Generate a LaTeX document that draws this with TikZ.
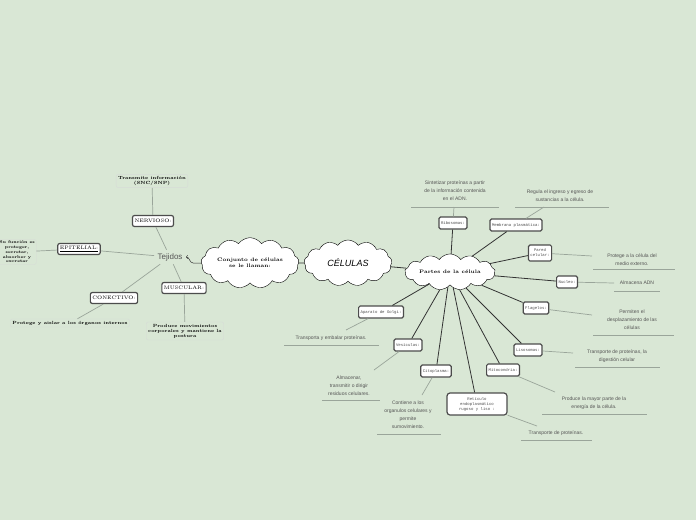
\documentclass[tikz,border=0pt]{standalone}
\usepackage{fontspec}
\newfontfamily\sansf{Liberation Sans}
\newfontfamily\monof{Liberation Mono}
\usetikzlibrary{shapes.symbols}
\definecolor{bg}{HTML}{D9E7D5}
\definecolor{txt}{HTML}{555555}
\definecolor{ln}{HTML}{9AA59A}
\begin{document}
\begin{tikzpicture}[x=1pt,y=-1pt,
  cloudn/.style={cloud,draw=black,fill=white,cloud puffs=13,cloud puff arc=110,aspect=2.4,inner sep=1pt,align=center},
  lbox/.style={draw=black!70,line width=1.2pt,rounded corners=2pt,fill=white,font=\fontsize{5}{6}\selectfont,inner sep=2pt,minimum height=11pt},
  rbox/.style={draw=black!70,line width=1.2pt,rounded corners=1.5pt,fill=white,font=\monof\fontsize{4}{5}\selectfont,text=black!70,inner sep=2pt,minimum height=12pt,align=center},
  ltxt/.style={font=\fontsize{4.5}{5}\selectfont\bfseries,align=center,draw=ln!40,rounded corners=2pt,inner sep=2pt},
  rtxt/.style={font=\sansf\fontsize{5}{8}\selectfont,text=txt,align=center},
  ul/.style={draw=ln,line width=0.6pt},
  con/.style={draw=black!80,line width=0.8pt},
  lcon/.style={draw=ln,line width=0.7pt}]
\fill[bg] (0,0) rectangle (696,520);
\useasboundingbox (0,0) rectangle (696,520);
% center
\node[cloudn,minimum width=88pt,minimum height=46pt,font=\sansf\small\itshape] (cel) at (348,263) {CÉLULAS};
\node[cloudn,minimum width=92pt,minimum height=38pt,font=\fontsize{5}{6}\selectfont\bfseries] (conj) at (250,263) {Conjunto de células\\se le llaman:};
\node[cloudn,minimum width=88pt,minimum height=28pt,font=\fontsize{5}{6}\selectfont\bfseries,aspect=3.5] (par) at (450,272) {Partes de la célula};
\node[font=\sansf\footnotesize,text=txt] (tej) at (170,257) {Tejidos};
\draw[con] (cel) -- (conj);
\draw[con] (cel) -- (par);
\draw[con,->,line width=0.5pt] (conj.west) -- ++(-8,0) to[out=180,in=0] (tej.east);
% left
\node[ltxt] (tnt) at (152,181) {Transmite información\\(SNC/SNP)};
\node[lbox] (ner) at (153,221) {NERVIOSO:};
\node[lbox] (epi) at (79,249) {\underline{EPITELIAL:}};
\node[ltxt,font=\fontsize{4}{4.8}\selectfont\bfseries,inner sep=1.5pt] (ept) at (17,252) {Su función es\\proteger,\\secretar,\\absorber y\\excretar};
\node[lbox] (cnx) at (114,298) {CONECTIVO:};
\node[ltxt] (cnt) at (70,323) {Protege y aislar a los órganos  internos};
\node[lbox] (mus) at (184,288) {MUSCULAR:};
\node[ltxt] (mut) at (185,331) {Produce movimientos\\corporales y  mantiene la\\postura};
\foreach \a in {ner,epi,cnx,mus} \draw[lcon] (tej) -- (\a);
\draw[lcon] (ner) -- (tnt); \draw[lcon] (epi) -- (ept); \draw[lcon] (cnx) -- (cnt); \draw[lcon] (mus) -- (mut);
% right boxes
\node[rbox] (rib) at (453,223) {Ribosomas:};
\node[rbox] (mem) at (516,225) {Membrana plasmática:};
\node[rbox,minimum height=16pt] (pc) at (540,253) {Pared\\celular:};
\node[rbox] (nuc) at (567,282) {Nucleo:};
\node[rbox] (fla) at (536,308) {Flagelos:};
\node[rbox] (lis) at (528,350) {Lisosomas:};
\node[rbox] (mit) at (503,370) {Mitocondria:};
\node[rbox,minimum width=60pt,minimum height=22pt,rounded corners=3pt] (ret) at (477,404) {Retículo\\endoplasmático\\rugoso  y liso :};
\node[rbox] (cit) at (436,371) {Citoplasma:};
\node[rbox] (ves) at (408,345) {Vesículas:};
\node[rbox] (gol) at (381,312) {Aparato de Golgi:};
\foreach \b in {rib,mem,pc,nuc,fla,lis,mit,ret,cit,ves,gol} \draw[con] (par) -- (\b);
% descriptions
\node[rtxt] (ribt) at (455,191) {Sintetizar proteínas a  partir\\de la información  contenida\\en el ADN.};
\draw[ul] (411,207) -- (499,207); \draw[lcon] (rib) -- (454,207);
\node[rtxt] (memt) at (560,196) {Regula el ingreso y egreso  de\\sustancias a la célula.};
\draw[ul] (515,207) -- (609,207); \draw[lcon] (mem.north) ++(10,0) -- (544,207);
\node[rtxt] (pct) at (632,260) {Protege a la célula  del\\medio externo.};
\draw[ul] (593,269) -- (675,269); \draw[lcon] (pc) -- (592,256);
\node[rtxt] (nuct) at (637,283) {Almacena ADN};
\draw[ul] (614,291) -- (660,291); \draw[lcon] (nuc) -- (614,283);
\node[rtxt] (flat) at (632,320) {Permiten el\\desplazamiento  de las\\células};
\draw[ul] (593,335) -- (674,335); \draw[lcon] (fla) -- (592,315);
\node[rtxt] (list) at (617,356) {Transporte de proteínas, la\\digestión celular};
\draw[ul] (575,367) -- (660,367); \draw[lcon] (lis) -- (573,353);
\node[rtxt] (mitt) at (594,403) {Produce la mayor parte de  la\\energía de la célula.};
\draw[ul] (542,414) -- (647,414); \draw[lcon] (mit) -- (555,392);
\node[rtxt] (rett) at (556,433) {Transporte de proteínas.};
\draw[ul] (521,440) -- (592,440); \draw[lcon] (ret) -- (537,426);
\node[rtxt] (citt) at (408,415) {Contiene a los\\organulos  celulares y\\permite\\sumovimiento.};
\draw[ul] (377,434) -- (441,434); \draw[lcon] (cit) -- (422,395);
\node[rtxt] (vest) at (349,386) {Almacenar,\\transmitir o dirigir\\residuos celulares.};
\draw[ul] (322,400) -- (380,400); \draw[lcon] (ves) -- (374,370);
\node[rtxt] (golt) at (331,338) {Transporta y embalar  proteínas.};
\draw[ul] (284,345) -- (379,345); \draw[lcon] (gol) -- (346,330);
\end{tikzpicture}
\end{document}
